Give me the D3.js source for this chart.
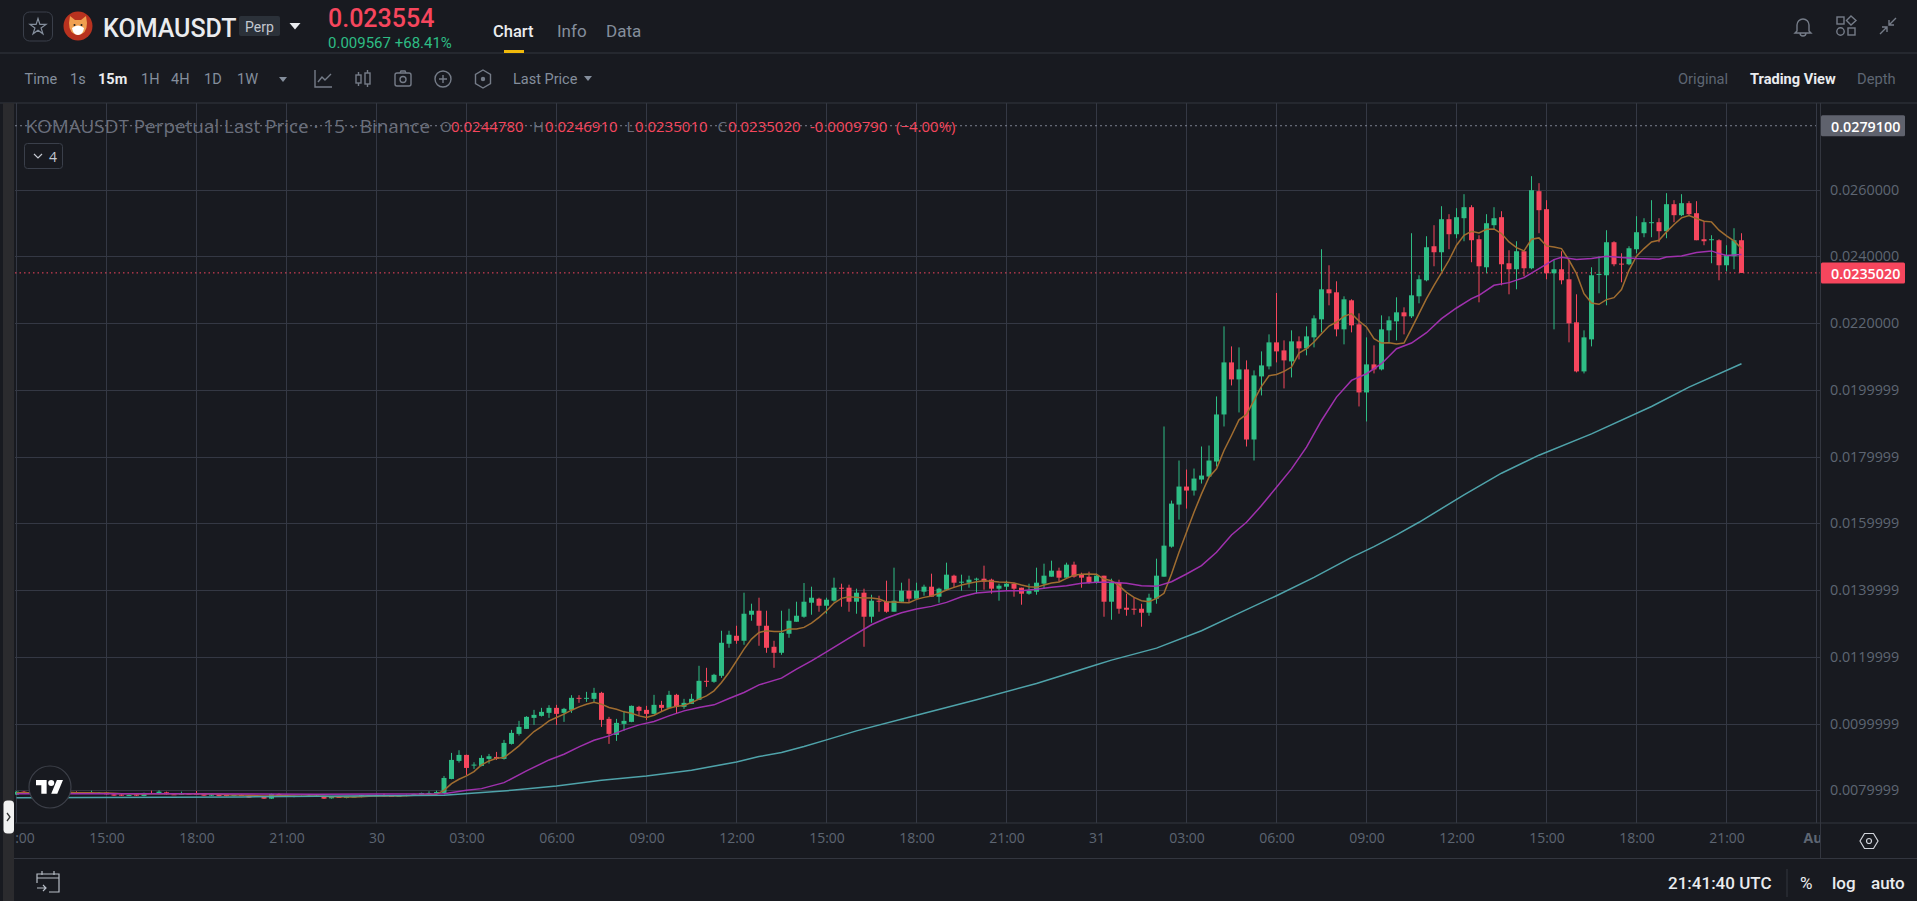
<!DOCTYPE html>
<html lang="en">

<head>
    <meta charset="UTF-8">
    <title>KOMAUSDT Perp</title>
    <script src="https://cdn.jsdelivr.net/npm/d3@7"></script>
    <style>
        html, body { margin: 0; padding: 0; background: #181a20; overflow: hidden; }
        svg { display: block; }
        text { font-family: Roboto, sans-serif; }
        .chartText text, text.chartText { font-family: "Open Sans", sans-serif; }
    </style>
</head>

<body>
    <svg width="1917" height="901"></svg>
    <script>
        // prices below are in units of 0.00001 USDT, one 15m candle per entry from 29th 12:00 UTC
        const UNIT = 1e-5;
        const open = [
            787,796,794,792,795,793,795,792,794,792, 791,791,793,788,787,785,788,783,792,789,
            794,788,788,790,790,791,784,788,787,783, 786,783,781,782,775,789,783,780,783,781,
            781,782,776,780,777,780,780,781,782,785, 783,781,783,785,787,790,792,792,834,888,
            906,875,873,894,900,894,939,969,984,1017, 1023,1032,1047,1032,1041,1077,1074,1074,1092,1014,
            966,999,1005,1050,1041,1029,1056,1047,1086,1050, 1059,1071,1128,1125,1143,1239,1263,1248,1326,1338,
            1293,1230,1212,1269,1305,1320,1362,1374,1353,1368, 1407,1407,1365,1392,1320,1368,1365,1335,1365,1398,
            1374,1395,1410,1380,1401,1443,1422,1422,1431,1434, 1431,1404,1410,1419,1407,1389,1395,1419,1440,1458,
            1437,1476,1446,1440,1422,1443,1365,1422,1347,1344, 1344,1332,1374,1440,1530,1656,1710,1698,1731,1740,
            1785,1926,2082,2031,2061,1851,2040,2070,2142,2118, 2085,2145,2124,2157,2211,2301,2292,2181,2268,2196,
            1992,2076,2061,2178,2205,2232,2220,2280,2328,2430, 2412,2511,2466,2514,2547,2451,2367,2493,2517,2379,
            2361,2415,2364,2595,2541,2349,2361,2331,2202,2055, 2151,2344,2343,2442,2378,2376,2421,2469,2499,2502,
            2475,2556,2523,2559,2529,2451,2448,2448,2373,2400, 2448
        ];
        const close = [
            796,793,792,795,793,795,792,794,792,791, 793,793,788,784,784,786,784,792,790,796,
            788,787,790,789,788,784,788,783,783,786, 784,778,783,775,789,783,782,783,781,784,
            784,775,780,778,780,781,785,785,786,782, 781,783,786,789,792,792,795,837,891,906,
            867,877,897,902,894,942,972,990,1020,1026, 1035,1047,1029,1044,1077,1074,1077,1092,1011,969,
            1002,1008,1053,1038,1029,1056,1047,1086,1050,1062, 1074,1128,1126,1146,1242,1266,1248,1329,1338,1293,
            1227,1212,1272,1308,1323,1365,1377,1353,1371,1407, 1404,1365,1392,1320,1368,1365,1335,1368,1398,1374,
            1398,1410,1380,1404,1446,1422,1425,1431,1434,1425, 1404,1413,1419,1404,1389,1398,1422,1443,1458,1437,
            1476,1440,1437,1422,1443,1365,1422,1344,1341,1341, 1332,1377,1443,1533,1659,1710,1698,1734,1743,1788,
            1926,2082,2031,2061,1851,2043,2073,2142,2115,2088, 2145,2124,2160,2214,2301,2289,2181,2271,2193,1992,
            2076,2061,2181,2208,2232,2220,2283,2331,2427,2412, 2511,2466,2517,2547,2448,2370,2499,2514,2376,2361,
            2415,2364,2598,2538,2349,2361,2328,2199,2055,2157, 2343,2347,2442,2376,2376,2424,2472,2502,2502,2475,
            2556,2523,2559,2526,2448,2445,2451,2373,2403,2448, 2350
        ];
        const high = [
            797,798,797,797,798,797,797,796,797,795, 799,795,794,790,789,788,789,793,799,800,
            796,790,796,792,798,792,789,789,788,787, 788,785,785,783,790,791,784,784,784,788,
            788,783,781,781,781,782,786,786,787,790, 784,784,787,790,793,797,799,843,912,920,
            907,884,905,909,915,951,981,1008,1022,1041, 1047,1055,1056,1047,1085,1085,1095,1107,1095,1020,
            1014,1038,1054,1053,1053,1086,1068,1098,1089,1074, 1089,1173,1167,1149,1278,1278,1293,1392,1359,1377,
            1338,1248,1338,1344,1365,1421,1410,1377,1377,1437, 1419,1416,1404,1404,1386,1383,1428,1467,1422,1434,
            1422,1416,1449,1407,1482,1446,1446,1443,1437,1473, 1434,1419,1428,1422,1407,1419,1467,1479,1488,1467,
            1482,1485,1452,1455,1449,1443,1434,1431,1389,1377, 1359,1389,1494,1890,1668,1788,1761,1764,1830,1833,
            1980,2190,2130,2127,2088,2058,2115,2166,2290,2148, 2178,2160,2190,2223,2421,2373,2325,2280,2271,2229,
            2157,2133,2223,2220,2277,2247,2469,2343,2460,2493, 2550,2526,2544,2586,2553,2463,2526,2547,2535,2418,
            2445,2418,2640,2619,2568,2391,2415,2388,2286,2178, 2367,2400,2478,2445,2409,2430,2520,2514,2568,2514,
            2589,2568,2586,2565,2565,2505,2463,2451,2433,2484, 2469
        ];
        const low = [
            786,790,790,791,791,792,791,790,790,789, 790,790,787,783,783,784,783,782,789,788,
            787,786,787,788,787,783,783,782,782,782, 783,777,780,774,774,782,781,779,780,780,
            780,774,775,777,776,779,779,780,781,781, 780,780,782,784,786,789,791,790,833,883,
            846,864,872,880,891,892,937,964,984,996, 1021,1017,996,1005,1032,1062,1065,1064,990,939,
            948,978,1004,1023,1011,1029,1035,1047,1029,1044, 1059,1071,1110,1122,1137,1227,1239,1236,1308,1233,
            1212,1167,1206,1257,1305,1317,1326,1335,1329,1365, 1350,1335,1329,1230,1302,1335,1332,1335,1365,1362,
            1374,1383,1380,1362,1398,1407,1398,1407,1389,1401, 1389,1368,1398,1380,1356,1386,1386,1404,1440,1425,
            1434,1437,1407,1419,1419,1320,1311,1329,1323,1326, 1290,1323,1359,1440,1527,1611,1644,1683,1719,1737,
            1770,1890,2013,1932,1830,1788,1983,2061,2082,2004, 2037,2091,2103,2127,2172,2253,2160,2136,2172,1950,
            1905,2049,2058,2142,2148,2166,2215,2259,2325,2370, 2355,2421,2454,2445,2382,2262,2349,2481,2313,2286,
            2301,2340,2361,2469,2331,2181,2316,2142,2052,2049, 2130,2289,2253,2370,2322,2373,2409,2457,2457,2442,
            2454,2502,2520,2523,2448,2433,2379,2328,2355,2361, 2350
        ];

        // orange MA, one per candle
        const ma7 = [
            793,793,793,793,794,794,794,794,793,793, 793,792,792,791,790,790,789,789,790,790,
            790,790,790,790,790,789,789,788,787,786, 786,785,784,783,783,784,784,783,782,783,
            783,782,781,781,780,780,781,782,783,783, 783,783,784,785,786,787,788,
            800,820,833,843,856,876,888,896,898,915,
            933,955,976,991,1008,1018,1028,1040,1050,1058, 1064,1058,1048,1043,1035,1031,1023,1018,1025,1036,
            1046,1052,1054,1063,1073,1083,1098,1123,1153,1188, 1223,1253,1273,1278,1276,1276,1283,1283,1288,1301,
            1318,1338,1361,1375,1380,1378,1376,1376,1373,1364, 1364,1363,1362,1372,1378,1382,1390,1400,1408,1415,
            1420,1425,1428,1426,1424,1423,1421,1415,1410,1408, 1415,1421,1424,1435,1444,1447,1448,1447,1433,1428,
            1413,1393,1378,1368,1365,1375,1390,1448,1513,1573, 1633,1688,1738,1763,1818,1863,1910,1926,1968,2010,
            2042,2046,2055,2068,2110,2123,2143,2168,2191,2203, 2220,2228,2206,2188,2153,2140,2141,2137,2140,2183,
            2228,2273,2313,2350,2388,2433,2463,2475,2470,2481, 2482,2468,2443,2426,2416,2451,2455,2431,2428,2423,
            2388,2348,2288,2260,2256,2270,2276,2300,2358,2400, 2423,2443,2448,2473,2495,2515,2522,2513,2505,2503,
            2478,2461,2446,2423
        ];
        // purple and teal MA, read at the candles listed in the At arrays
        const ma25At = [0,20,40,57,60,62,65,68,71,73,75,77,79,81,83,85,87,89,91,93,95,97,99,102,104,106,108,111,114,116,118,120,122,124,126,128,130,132,134,136,138,140,142,144,146,148,150,152,154,156,158,160,162,164,166,168,170,172,174,176,178,180,182,184,186,188,190,192,194,195,197,199,201,203,205,206,208,210,212,214,216,219,220,222,224,226,227,228,230];
        const ma25 = [790,790,788,790,800,805,823,858,891,908,930,950,963,981,996,1006,1023,1038,1048,1056,1075,1093,1116,1136,1163,1188,1215,1256,1296,1316,1332,1343,1351,1363,1380,1391,1395,1398,1398,1402,1408,1413,1420,1423,1423,1420,1413,1411,1425,1448,1473,1513,1565,1603,1653,1708,1763,1828,1908,1978,2028,2048,2078,2123,2140,2171,2213,2245,2273,2283,2313,2321,2336,2363,2390,2397,2390,2393,2400,2396,2393,2391,2398,2401,2411,2416,2408,2402,2405];
        const ma99At = [0,30,57,66,72,78,84,90,96,99,102,105,108,112,120,128,136,144,146,152,158,163,168,173,178,181,184,187,193,198,203,210,218,223,230];
        const ma99 = [778,780,785,800,813,830,843,860,885,901,913,931,951,978,1025,1071,1120,1176,1190,1226,1278,1331,1383,1438,1498,1530,1565,1603,1685,1750,1804,1868,1950,2008,2078];

        const priceTicks = [0.026, 0.024, 0.022, 0.02, 0.018, 0.016, 0.014, 0.012, 0.01, 0.008];
        const priceLabels = ['0.0260000', '0.0240000', '0.0220000', '0.0199999', '0.0179999', '0.0159999', '0.0139999', '0.0119999', '0.0099999', '0.0079999'];
        const timeLabels = ['12:00', '15:00', '18:00', '21:00', '30', '03:00', '06:00', '09:00', '12:00', '15:00', '18:00', '21:00', '31', '03:00', '06:00', '09:00', '12:00', '15:00', '18:00', '21:00', 'Aug'];
        const highPrice = 0.02791, lastPrice = 0.023502;

        const BG = '#181a20', GRID = '#343844', LINE = '#33363f', GREEN = '#2ebd85', RED = '#f6465d', DIM = '#5e6673', MUTED = '#848e9c', WHITE = '#eaecef';
        const plot = { left: 15, right: 1820, top: 103, bottom: 823 };

        const svg = d3.select('svg');
        const start = Date.UTC(2024, 6, 29, 12);
        const step = 15 * 60 * 1000;
        const timeOf = i => new Date(start + i * step);

        const x = d3.scaleUtc()
            .domain([timeOf(0), timeOf(228)])
            .range([16.5, 1726.5]);
        const y = d3.scaleLinear()
            .domain([0.008, 0.026])
            .range([790.3, 189.5]);

        function text(g, tx, ty, str, fill, size, opts) {
            opts = opts || {};
            return g.append('text')
                .attr('x', tx).attr('y', ty)
                .attr('fill', fill)
                .attr('font-size', size)
                .attr('font-weight', opts.weight || 400)
                .attr('text-anchor', opts.anchor || 'start')
                .attr('class', opts.cls || null)
                .attr('dominant-baseline', 'central')
                .text(str);
        }

        svg.append('rect').attr('width', 1917).attr('height', 901).attr('fill', BG);
        svg.append('defs').append('clipPath').attr('id', 'plotClip').append('rect')
            .attr('x', plot.left).attr('y', plot.top)
            .attr('width', plot.right - plot.left).attr('height', 901 - plot.top);

        //网格
        const timeTicks = d3.range(0, 21).map(k => timeOf(k * 12));
        const gridG = svg.append('g').attr('clip-path', 'url(#plotClip)');
        gridG.selectAll('line.v').data(timeTicks).enter().append('line')
            .attr('class', 'v')
            .attr('x1', d => x(d)).attr('x2', d => x(d))
            .attr('y1', plot.top).attr('y2', plot.bottom)
            .attr('stroke', GRID);
        gridG.selectAll('line.h').data(priceTicks).enter().append('line')
            .attr('class', 'h')
            .attr('x1', plot.left).attr('x2', plot.right)
            .attr('y1', d => Math.round(y(d)) + 0.5).attr('y2', d => Math.round(y(d)) + 0.5)
            .attr('stroke', GRID);

        // 最高价 / 最新价 虚线
        gridG.append('line').attr('x1', plot.left).attr('x2', 1816)
            .attr('y1', y(highPrice)).attr('y2', y(highPrice))
            .attr('stroke', '#7d8290').attr('stroke-dasharray', '2 3');
        gridG.append('line').attr('x1', plot.left).attr('x2', plot.right)
            .attr('y1', y(lastPrice)).attr('y2', y(lastPrice))
            .attr('stroke', RED).attr('stroke-dasharray', '1.5 3');

        //K线
        const candles = d3.range(open.length);
        const candleG = svg.append('g').attr('clip-path', 'url(#plotClip)');
        candleG.selectAll('line.wick').data(candles).enter().append('line')
            .attr('class', 'wick')
            .attr('x1', i => x(timeOf(i))).attr('x2', i => x(timeOf(i)))
            .attr('y1', i => y(high[i] * UNIT)).attr('y2', i => y(low[i] * UNIT))
            .attr('stroke', i => close[i] >= open[i] ? GREEN : RED);
        candleG.selectAll('rect.body').data(candles).enter().append('rect')
            .attr('class', 'body')
            .attr('x', i => x(timeOf(i)) - 2.5)
            .attr('width', 5)
            .attr('y', i => y(Math.max(open[i], close[i]) * UNIT))
            .attr('height', i => Math.max(1, Math.abs(y(open[i] * UNIT) - y(close[i] * UNIT))))
            .attr('fill', i => close[i] >= open[i] ? GREEN : RED);

        // 均线
        function drawMa(at, values, color, w) {
            const line = d3.line()
                .x(d => x(timeOf(d[0])))
                .y(d => y(d[1] * UNIT));
            candleG.append('path')
                .datum(at.map((a, k) => [a, values[k]]))
                .attr('d', line)
                .attr('fill', 'none')
                .attr('stroke', color)
                .attr('stroke-width', w);
        }
        drawMa(candles, ma7, '#a06d30', 1.5);
        drawMa(ma99At, ma99, '#4fa3aa', 1.5);
        drawMa(ma25At, ma25, '#a031ae', 1.5);

        // 坐标轴
        const axisX = d3.axisBottom(x)
            .tickValues(timeTicks)
            .tickSize(0)
            .tickPadding(10)
            .tickFormat((d, k) => timeLabels[k]);
        const axisXG = svg.append('g')
            .attr('transform', 'translate(0,' + plot.bottom + ')')
            .attr('clip-path', 'url(#axisClip)')
            .call(axisX);
        svg.select('defs').append('clipPath').attr('id', 'axisClip').append('rect')
            .attr('x', plot.left).attr('y', 0).attr('width', plot.right - plot.left).attr('height', 40);
        axisXG.select('.domain').remove();
        axisXG.selectAll('text')
            .attr('class', 'chartText')
            .attr('fill', DIM)
            .attr('font-size', 14)
            .attr('font-weight', (d, k) => timeLabels[k] === 'Aug' ? 700 : 400);

        const axisY = d3.axisRight(y)
            .tickValues(priceTicks)
            .tickSize(0)
            .tickPadding(0)
            .tickFormat((d, k) => priceLabels[k]);
        const axisYG = svg.append('g')
            .attr('transform', 'translate(1830,0)')
            .call(axisY);
        axisYG.select('.domain').remove();
        axisYG.selectAll('text')
            .attr('class', 'chartText')
            .attr('fill', DIM)
            .attr('font-size', 14.3);

        // 边框线
        const frame = [
            [0, 53, 1917, 53], [0, 103, 1917, 103], [plot.left, 823, 1917, 823], [14, 858.5, 1917, 858.5], [1820.5, 103, 1820.5, 858]
        ];
        svg.selectAll('line.frame').data(frame).enter().append('line')
            .attr('class', 'frame')
            .attr('x1', d => d[0]).attr('y1', d => d[1]).attr('x2', d => d[2]).attr('y2', d => d[3])
            .attr('stroke', LINE);
        svg.append('rect').attr('x', 3).attr('y', 103).attr('width', 11).attr('height', 798).attr('fill', '#2b2b2e');

        // 价格标签
        const priceTags = [
            { p: highPrice, label: '0.0279100', fill: '#5f626d' },
            { p: lastPrice, label: '0.0235020', fill: RED }
        ];
        priceTags.forEach(t => {
            svg.append('rect').attr('x', 1821).attr('y', y(t.p) - 10.5).attr('width', 84).attr('height', 21).attr('rx', 1.5).attr('fill', t.fill);
            text(svg, 1831, y(t.p) + 0.5, t.label, '#ffffff', 14.3, { weight: 600, cls: 'chartText' });
        });

        // 顶部
        const star = d3.symbol().type(d3.symbolStar).size(80);
        svg.append('rect').attr('x', 23.5).attr('y', 12).attr('width', 29).attr('height', 29).attr('rx', 6)
            .attr('fill', 'none').attr('stroke', '#3a3f4a');
        svg.append('path').attr('d', star()).attr('transform', 'translate(38,27)')
            .attr('fill', 'none').attr('stroke', MUTED).attr('stroke-width', 1.2);
        const logo = svg.append('g').attr('transform', 'translate(78,26)');
        logo.append('circle').attr('r', 14.5).attr('fill', '#b8321f');
        logo.append('path').attr('d', 'M-9,-3 L-8,-10 L-3,-6 L3,-6 L8,-10 L9,-3 Q9,8 0,9 Q-9,8 -9,-3Z').attr('fill', '#f0a050');
        logo.append('path').attr('d', 'M-6,2 Q0,-3 6,2 Q5,9 0,9 Q-5,9 -6,2Z').attr('fill', '#fff');
        logo.append('circle').attr('cx', -3.5).attr('cy', -1).attr('r', 1).attr('fill', '#222');
        logo.append('circle').attr('cx', 3.5).attr('cy', -1).attr('r', 1).attr('fill', '#222');

        text(svg, 103, 28, 'KOMAUSDT', WHITE, 25, { weight: 500 });
        svg.append('rect').attr('x', 239).attr('y', 16).attr('width', 41).attr('height', 20).attr('rx', 2).attr('fill', '#2b3139');
        text(svg, 259.5, 26.5, 'Perp', '#c3c8d0', 14, { anchor: 'middle' });
        svg.append('path').attr('d', 'M289.5,23 h11 l-5.5,6.5z').attr('fill', WHITE);
        text(svg, 328, 18.5, '0.023554', RED, 25, { weight: 500 });
        text(svg, 328, 42.5, '0.009567 +68.41%', GREEN, 15);
        text(svg, 493, 31, 'Chart', WHITE, 16.5, { weight: 500 });
        svg.append('rect').attr('x', 504).attr('y', 50).attr('width', 20).attr('height', 3).attr('fill', '#f0b90b');
        text(svg, 557, 31, 'Info', MUTED, 17);
        text(svg, 606, 31, 'Data', MUTED, 17);

        const intervals = [['Time', 24.5], ['1s', 70], ['15m', 98], ['1H', 141], ['4H', 171], ['1D', 204], ['1W', 237]];
        intervals.forEach(d => {
            const on = d[0] === '15m';
            text(svg, d[1], 79, d[0], on ? WHITE : MUTED, 14.5, { weight: on ? 700 : 400 });
        });
        svg.append('path').attr('d', 'M279,77 h8 l-4,5z').attr('fill', MUTED);
        text(svg, 513, 79, 'Last Price', MUTED, 14.5);
        svg.append('path').attr('d', 'M584,76 h8 l-4,5z').attr('fill', MUTED);
        text(svg, 1678, 79, 'Original', DIM, 14.7);
        text(svg, 1750, 79, 'Trading View', WHITE, 14.6, { weight: 700 });
        text(svg, 1857, 79, 'Depth', DIM, 14.7);

        // 工具栏图标
        const iconStroke = { fill: 'none', stroke: '#757c88', 'stroke-width': 1.4 };
        function icon(tx, ty, parts, attrs) {
            const g = svg.append('g').attr('transform', 'translate(' + tx + ',' + ty + ')');
            Object.keys(attrs || iconStroke).forEach(k => g.attr(k, (attrs || iconStroke)[k]));
            parts.forEach(p => g.append(p[0]).each(function () {
                const el = d3.select(this);
                Object.keys(p[1]).forEach(k => el.attr(k, p[1][k]));
            }));
            return g;
        }
        icon(323, 79, [['path', { d: 'M-8,-9 V8 H9 M-5,3 L-1,-2 L2,1 L8,-5' }]]);
        icon(363, 79, [['rect', { x: -7, y: -4, width: 5, height: 8 }], ['rect', { x: 2, y: -6, width: 5, height: 11 }], ['path', { d: 'M-4.5,-7 V-4 M-4.5,4 V7 M4.5,-9 V-6 M4.5,5 V8' }]]);
        icon(403, 79, [['rect', { x: -8, y: -6, width: 16, height: 13, rx: 2 }], ['circle', { cx: 0, cy: 0.5, r: 3 }], ['path', { d: 'M-3,-6 L-2,-8 H2 L3,-6' }]]);
        icon(443, 79, [['circle', { r: 8 }], ['path', { d: 'M-4,0 H4 M0,-4 V4' }]]);
        icon(483, 79, [['path', { d: 'M0,-9 L7.5,-4.5 V4.5 L0,9 L-7.5,4.5 V-4.5Z' }], ['circle', { r: 1.5, fill: '#757c88' }]]);

        // 右上角图标
        icon(1803, 26, [['path', { d: 'M-6,5 V-1 A6,6 0 0 1 6,-1 V5 L8,7 H-8Z M-3,7 A3,3 0 0 0 3,7' }]], { fill: 'none', stroke: '#757c88', 'stroke-width': 1.4 });
        icon(1846, 26, [['rect', { x: -9, y: -9, width: 7, height: 7 }], ['path', { d: 'M5,-10 L10,-5.5 L5,-1 L0.5,-5.5Z' }], ['circle', { cx: -5.5, cy: 5.5, r: 3.7 }], ['rect', { x: 2, y: 2, width: 7, height: 7 }]]);
        icon(1888, 26, [['path', { d: 'M1,-1 L8,-8 M1,-6 V-1 H6 M-1,1 L-8,8 M-6,1 H-1 V6' }]]);

        // 图例
        text(svg, 25.4, 126, 'KOMAUSDT Perpetual Last Price · 15 · Binance', '#6a6f7c', 18.9, { cls: 'chartText' });
        const legend = [['O', 440, '0.0244780', 451], ['H', 533, '0.0246910', 545], ['L', 626.5, '0.0235010', 635], ['C', 717.6, '0.0235020', 728]];
        legend.forEach(d => {
            text(svg, d[1], 126, d[0], '#6a6f7c', 15, { cls: 'chartText' });
            text(svg, d[3], 126, d[2], RED, 15, { cls: 'chartText' });
        });
        text(svg, 810, 126, '-0.0009790', RED, 15, { cls: 'chartText' });
        text(svg, 896, 126, '(−4.00%)', RED, 15, { cls: 'chartText' });

        svg.append('rect').attr('x', 24.5).attr('y', 143.5).attr('width', 38).attr('height', 25).attr('rx', 3)
            .attr('fill', BG).attr('stroke', '#3a3f4a');
        svg.append('path').attr('d', 'M34,154 l4,4 l4,-4').attr('fill', 'none').attr('stroke', '#c4c8d0').attr('stroke-width', 1.2);
        text(svg, 49, 156.5, '4', '#c4c8d0', 14, { cls: 'chartText' });

        // TV 标志
        svg.append('circle').attr('cx', 50).attr('cy', 787).attr('r', 21).attr('fill', BG).attr('stroke', '#3d4049').attr('stroke-width', 1.2);
        const tv = svg.append('g').attr('transform', 'translate(36,777) scale(0.76)').attr('fill', '#fff');
        tv.append('path').attr('d', 'M14 22H7V11H0V4h14v18zM28 22h-8l7.5-18h8L28 22z');
        tv.append('circle').attr('cx', 20).attr('cy', 8).attr('r', 4);

        // 左侧折叠按钮
        svg.append('rect').attr('x', 3.5).attr('y', 800.5).attr('width', 10.5).attr('height', 33).attr('rx', 4).attr('fill', '#f2f2f2');
        svg.append('path').attr('d', 'M7,813 l3,4 l-3,4').attr('fill', 'none').attr('stroke', '#333').attr('stroke-width', 1.3);

        // 底部
        icon(48, 882, [['path', { d: 'M-11,1 V-8 H11 V10 H1 M-11,-4 H11 M-6,-11 V-7 M6,-11 V-7 M-11,6 H-2 M-5,3 L-2,6 L-5,9' }]], { fill: 'none', stroke: '#b7bdc6', 'stroke-width': 1.2 });
        text(svg, 1668, 883, '21:41:40 UTC', WHITE, 17, { weight: 500 });
        svg.append('line').attr('x1', 1787).attr('x2', 1787).attr('y1', 869).attr('y2', 897).attr('stroke', LINE);
        text(svg, 1800, 883, '%', WHITE, 17);
        text(svg, 1832, 883, 'log', WHITE, 17, { weight: 500 });
        text(svg, 1871, 883, 'auto', WHITE, 17, { weight: 500 });
        icon(1869, 841, [['path', { d: 'M-9,0 L-4.5,-7.5 H4.5 L9,0 L4.5,7.5 H-4.5Z' }], ['circle', { r: 2.5 }]], { fill: 'none', stroke: '#d0d3da', 'stroke-width': 1.2 });
    </script>
</body>

</html>
